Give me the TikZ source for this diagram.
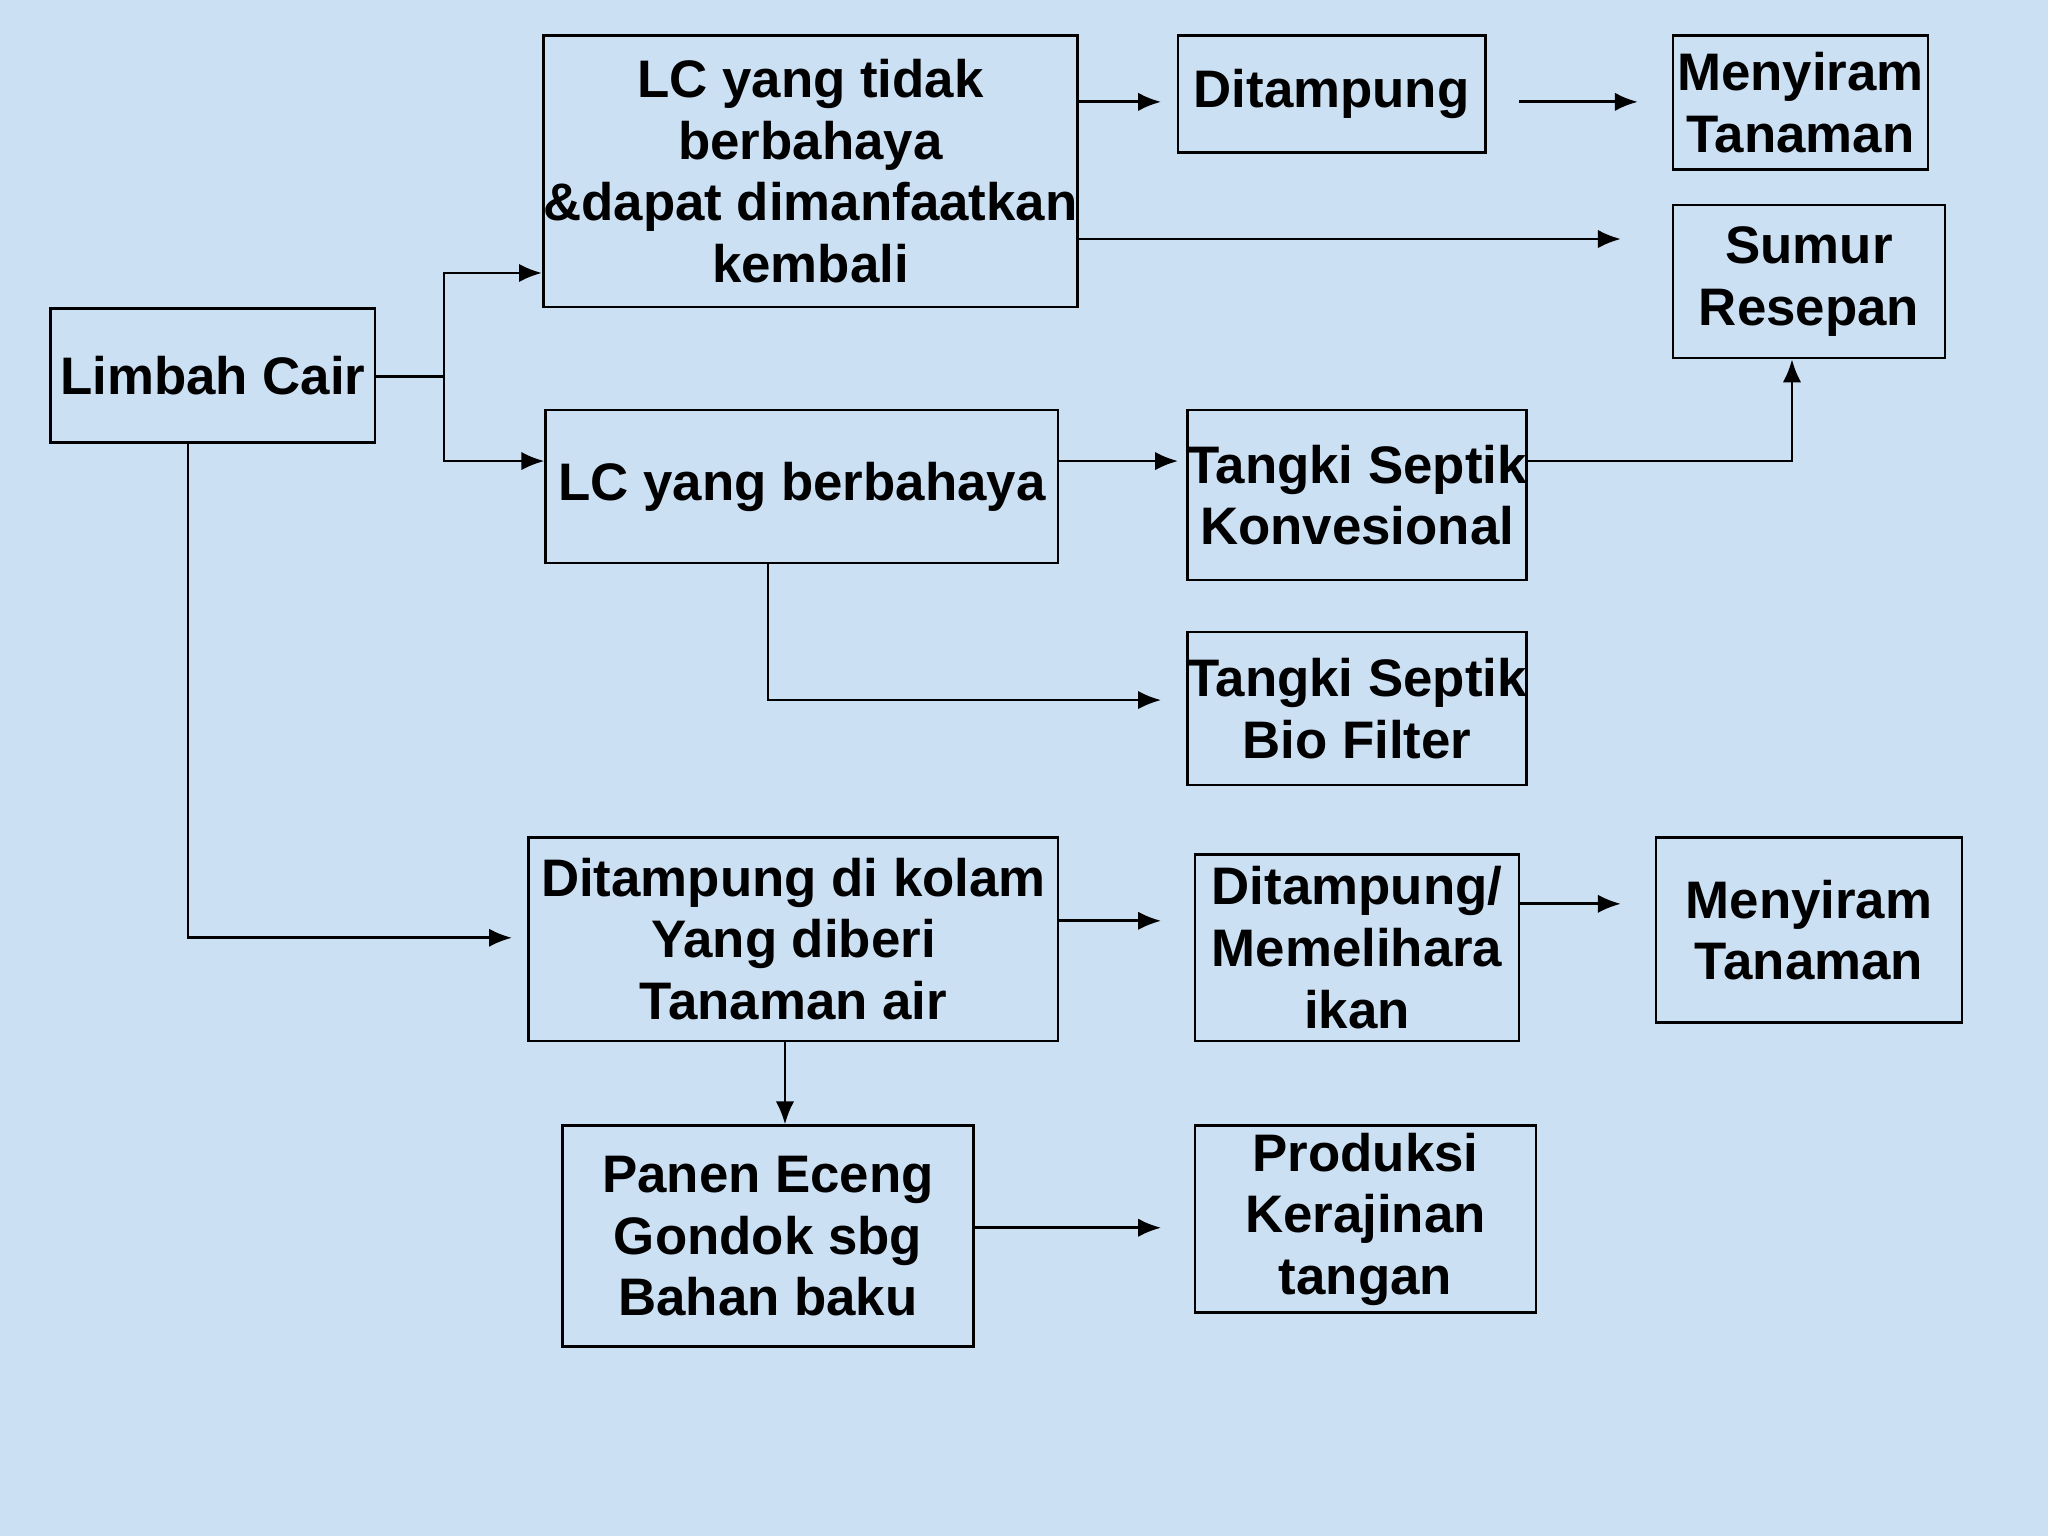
\documentclass[tikz,border=0pt]{standalone}
\usepackage{fontspec}
\setmainfont{Liberation Sans}
\usetikzlibrary{arrows.meta}
\definecolor{bg}{RGB}{204,224,244}
\begin{document}
\begin{tikzpicture}[x=0.01cm,y=-0.01cm,
  box/.style={draw,line width=0.6pt,align=center,inner sep=0pt,font=\fontsize{11.5}{13.4}\selectfont\bfseries},
  arr/.style={line width=0.6pt,-{Latex[length=5pt,width=4pt]}},
  ln/.style={line width=0.6pt}]
\fill[bg] (0,0) rectangle (1568,1176);
\node[box,minimum width=2.48cm,minimum height=1.03cm] (lc) at (163,287.5) {Limbah Cair};
\node[box,minimum width=4.05cm,minimum height=2.08cm] (tb) at (620.5,131) {LC yang tidak\\berbahaya\\\&dapat dimanfaatkan\\kembali};
\node[box,minimum width=2.35cm,minimum height=0.90cm] (dt) at (1019.5,72) {Ditampung};
\node[box,minimum width=1.95cm,minimum height=1.03cm] (m1) at (1378.5,78.5) {Menyiram\\Tanaman};
\node[box,minimum width=2.08cm,minimum height=1.17cm] (sr) at (1385,215.5) {Sumur\\Resepan};
\node[box,minimum width=3.92cm,minimum height=1.17cm] (bb) at (614,372.5) {LC yang berbahaya};
\node[box,minimum width=2.48cm,minimum height=1.30cm] (tk) at (1039,379) {Tangki Septik\\Konvesional};
\node[box,minimum width=2.48cm,minimum height=1.17cm] (bf) at (1039,542.5) {Tangki Septik\\Bio Filter};
\node[box,minimum width=4.05cm,minimum height=1.56cm] (kl) at (607.5,719) {Ditampung di kolam\\Yang diberi\\Tanaman air};
\node[box,minimum width=2.48cm,minimum height=1.43cm] (ik) at (1039,725.5) {Ditampung/\\Memelihara\\ikan};
\node[box,minimum width=2.34cm,minimum height=1.42cm] (m2) at (1385,712) {Menyiram\\Tanaman};
\node[box,minimum width=3.14cm,minimum height=1.69cm] (pn) at (588,946.5) {Panen Eceng\\Gondok sbg\\Bahan baku};
\node[box,minimum width=2.61cm,minimum height=1.43cm] (pr) at (1045.5,933.5) {Produksi\\Kerajinan\\tangan};
\coordinate (e1) at (889,78);
\coordinate (s2) at (1163,78); \coordinate (e2) at (1254,78);
\coordinate (e3) at (1241,183);
\coordinate (j) at (340,288);
\coordinate (e4) at (902,353);
\coordinate (e5) at (889,536);
\coordinate (e6) at (392,718);
\coordinate (e7) at (889,705);
\coordinate (e8) at (1241,692);
\coordinate (e9) at (889,940);
\draw[arr] (tb.east |- e1) -- (e1);
\draw[arr] (s2) -- (e2);
\draw[arr] (tb.east |- e3) -- (e3);
\draw[ln] (lc.east |- j) -- (j);
\draw[arr] (j) |- (tb.west |- 0,209);
\draw[arr] (j) |- (bb.west |- 0,353);
\draw[arr] (bb.east |- e4) -- (e4);
\draw[arr] (tk.east |- 0,353) -| (sr.south -| 1372,0);
\draw[arr] (bb.south -| 588,0) |- (e5);
\draw[arr] (lc.south -| 144,0) |- (e6);
\draw[arr] (kl.east |- e7) -- (e7);
\draw[arr] (ik.east |- e8) -- (e8);
\draw[arr] (kl.south -| 601,0) -- (pn.north -| 601,0);
\draw[arr] (pn.east |- e9) -- (e9);
\end{tikzpicture}
\end{document}
